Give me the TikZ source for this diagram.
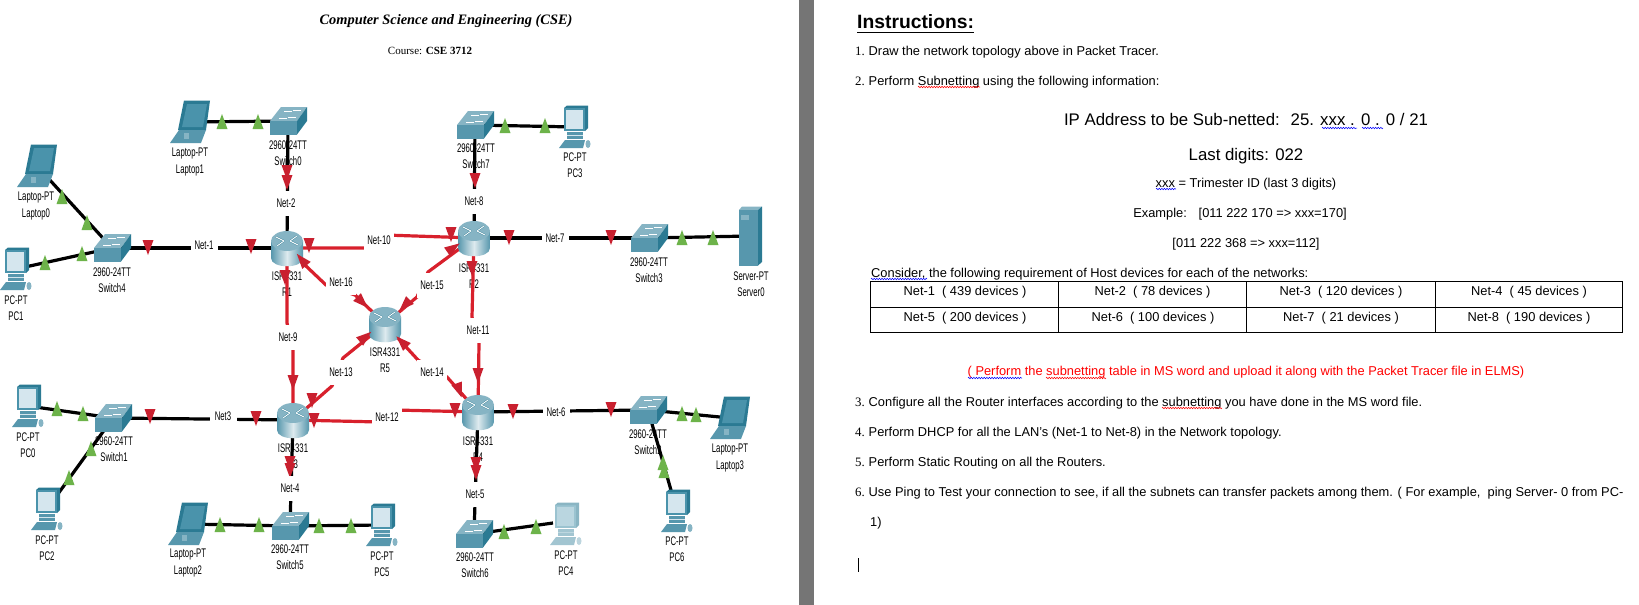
\documentclass[tikz,border=0pt]{standalone}
\usepackage{fontspec}
\setmainfont{Liberation Sans}
\newfontfamily\dvfont[FakeStretch=0.62]{Liberation Sans}
\newfontfamily\srf{Liberation Serif}
\usetikzlibrary{decorations.pathmorphing}
\definecolor{rtric}{HTML}{C9202F}
\definecolor{rline}{HTML}{D8202C}
\definecolor{gtric}{HTML}{6DB34A}
\definecolor{tealA}{HTML}{5797AD}
\definecolor{tealB}{HTML}{2B7A93}
\definecolor{tealC}{HTML}{86B4C4}
\definecolor{tealD}{HTML}{4A93AB}
\definecolor{screenc}{HTML}{D5E6EE}
\definecolor{bandc}{HTML}{757575}
\newcommand{\rtri}[3]{\fill[rtric,shift={(#1,#2)},rotate=#3] (-5.5,-7)--(5.5,-7)--(0,8)--cycle;}
\newcommand{\gtri}[2]{\fill[gtric,shift={(#1,#2)}] (-5.5,7)--(5.5,7)--(0,-8)--cycle;}
\newcommand{\squig}[4]{\draw[#4,line width=.5pt,decorate,decoration={zigzag,segment length=2.6pt,amplitude=.8pt}] (#1,#3)--(#2,#3);}
\tikzset{
 x=1pt,y=-1pt,
 dev/.style={inner sep=0pt,minimum size=0pt,outer sep=0pt},
 devlabel/.style={align=center,inner sep=0pt,font=\dvfont\fontsize{12.5}{16.5}\selectfont},
 netlabel/.style={fill=white,inner sep=0pt,minimum height=25pt,minimum width=#1,font=\dvfont\fontsize{12.5}{15}\selectfont},
 netlabel/.default=27pt,
 blk/.style={line width=3.2pt,black},
 redl/.style={line width=3.2pt,rline},
 doc/.style={anchor=mid west,inner sep=0pt,yshift=-2.5pt,font=\fontsize{12.85}{14}\selectfont},
 docc/.style={anchor=mid,inner sep=0pt,yshift=-3pt,font=\fontsize{12.85}{14}\selectfont},
 big/.style={anchor=mid,inner sep=0pt,yshift=-4pt,font=\fontsize{16.8}{18}\selectfont},
 cell/.style={anchor=mid,inner sep=0pt,yshift=-3pt,font=\fontsize{12.85}{14}\selectfont},
 switchicon/.pic={
  \fill[tealC] (-18,0)--(-7,-14)--(19,-14)--(9,0)--cycle;
  \fill[tealA] (-18,0) rectangle (9,13.5);
  \fill[tealB] (9,0)--(19,-14)--(19,0)--(9,13.5)--cycle;
  \draw[white,line width=.6pt] (-9,-3)--(-1,-3) (-4,-10)--(4,-10) (0,-4)--(8,-4) (5,-11)--(13,-11);
 },
 routericon/.pic={
  \shade[left color=tealA,right color=tealA,middle color=white!80!tealA] (-16,-7)--(-16,10) .. controls (-16,21) and (16,21) .. (16,10)--(16,-7)--cycle;
  \fill[tealC] (0,-7) ellipse [x radius=16pt,y radius=10pt];
  \draw[tealB,line width=1.6pt] (-11,-11)--(-3,-7) (11,-3)--(3,-7) (-10,-2)--(-3,-7) (10,-12)--(3,-7);
  \draw[white,line width=.9pt] (-11,-11)--(-3,-7) (11,-3)--(3,-7) (-10,-2)--(-3,-7) (10,-12)--(3,-7);
 },
 pcicon/.pic={
  \fill[tealB] (-11,-19)--(-8,-21.5)--(13,-21.5)--(13,1)--(10,4)--(10,-19)--cycle;
  \fill[tealD] (-11,-19) rectangle (10,4);
  \fill[screenc] (-9,-17) rectangle (8,2);
  \fill[tealA] (-8,5) rectangle (8,12);
  \fill[screenc] (-8,8) rectangle (8,9);
  \fill[tealA] (-16,21)--(-10,13)--(10,13)--(8,21)--cycle;
  \fill[tealC] (13,17) ellipse [x radius=2.5pt,y radius=4pt];
 },
 laptopicon/.pic={
  \fill[tealB] (-6,-21.5)--(20,-21.5)--(16,8)--(-12,8)--cycle;
  \fill[tealD] (-3,-18)--(17,-18)--(13,5)--(-8,5)--cycle;
  \fill[tealA] (-20,21)--(-11,8)--(16,8)--(11,21)--cycle;
  \fill[tealC] (-6,11) rectangle (-1,17);
 },
 servericon/.pic={
  \fill[tealC] (-11,-26)--(-8,-29.5)--(12,-29.5)--(8,-26)--cycle;
  \fill[tealA] (-11,-26) rectangle (8,29.5);
  \fill[tealB] (8,-26)--(12,-29.5)--(12,26)--(8,29.5)--cycle;
  \fill[tealC] (-9,-21) rectangle (-1,-16);
 },
}
\begin{document}
\begin{tikzpicture}
\useasboundingbox (0,0) rectangle (1639,605);
\fill[white] (0,0) rectangle (1639,605);
\fill[bandc] (799,0) rectangle (814,605);

% ---------- title
\node[inner sep=0pt,anchor=mid,font=\fontspec{Liberation Serif}\fontsize{14.4}{15}\selectfont\bfseries\itshape] (title) at (446,22) {Computer Science and Engineering (CSE)};
\node[inner sep=0pt,anchor=mid,font=\srf\fontsize{11}{13}\selectfont] (course) at (430,52) {Course: \textbf{CSE 3712}};

% ---------- device anchors
\foreach \n/\px/\py in {lap1/190/122,sw0/288/121,lap0/37/166,sw4/112/248,pc1/16/269,r1/287/248,
  sw7/475/125,pc3/575/127,r2/474/238,sw3/649/238,srv/750/236,r5/385/324,
  pc0/28/406,sw1/113/418,pc2/47/509,r3/293/420,lap2/188/524,sw5/290/526,pc5/382/525,
  r4/478/412,sw2/648/410,lap3/730/418,pc6/677/511,sw6/474/534,pc4/566/524}
  {\node[dev] (\n) at (\px,\py) {};}
\coordinate (pc4e) at (553,523);

% ---------- device labels (lines run over them)
\node[devlabel] (llap1) at (190,162) {Laptop-PT\\Laptop1};
\node[devlabel] (lsw0) at (288,153) {2960-24TT\\Switch0};
\node[devlabel] (llap0) at (36,206) {Laptop-PT\\Laptop0};
\node[devlabel] (lsw4) at (112,280) {2960-24TT\\Switch4};
\node[devlabel] (lpc1) at (16,308) {PC-PT\\PC1};
\node[devlabel] (lr1) at (287,284) {ISR4331\\R1};
\node[devlabel] (lsw7) at (476,156) {2960-24TT\\Switch7};
\node[devlabel] (lpc3) at (575,165) {PC-PT\\PC3};
\node[devlabel] (lr2) at (474,276) {ISR4331\\R2};
\node[devlabel] (lsw3) at (649,270) {2960-24TT\\Switch3};
\node[devlabel] (lsrv) at (751,284) {Server-PT\\Server0};
\node[devlabel] (lr5) at (385,360) {ISR4331\\R5};
\node[devlabel] (lpc0) at (28,445) {PC-PT\\PC0};
\node[devlabel] (lsw1) at (114,449) {2960-24TT\\Switch1};
\node[devlabel] (lpc2) at (47,548) {PC-PT\\PC2};
\node[devlabel] (lr3) at (293,456) {ISR4331\\R3};
\node[devlabel] (llap2) at (188,563) {Laptop-PT\\Laptop2};
\node[devlabel] (lsw5) at (290,557) {2960-24TT\\Switch5};
\node[devlabel] (lpc5) at (382,564) {PC-PT\\PC5};
\node[devlabel] (lr4) at (478,449) {ISR4331\\R4};
\node[devlabel] (lsw2) at (648,442) {2960-24TT\\Switch2};
\node[devlabel] (llap3) at (730,458) {Laptop-PT\\Laptop3};
\node[devlabel] (lpc6) at (677,549) {PC-PT\\PC6};
\node[devlabel] (lsw6) at (475,565) {2960-24TT\\Switch6};
\node[devlabel] (lpc4) at (566,563) {PC-PT\\PC4};

% ---------- kink points of the red links (hidden by their labels)
\coordinate (k10a) at (370,248); \coordinate (k10b) at (385,235);
\coordinate (k12a) at (380,422); \coordinate (k12b) at (395,410);
\coordinate (k16a) at (326,285); \coordinate (k16b) at (355,295);
\coordinate (k15a) at (417,297); \coordinate (k15b) at (428,272);
\coordinate (k13a) at (343,358); \coordinate (k13b) at (332,386);
\coordinate (k14a) at (418,360); \coordinate (k14b) at (447,377);
\coordinate (k9a) at (287,323); \coordinate (k9b) at (293,350);
\coordinate (k11a) at (472,317); \coordinate (k11b) at (479,343);

% ---------- black links
\draw[blk] (lap1)--(sw0);
\draw[blk] (lap0)--(sw4);
\draw[blk] (pc1)--(sw4);
\draw[blk] (sw4)--(r1);
\draw[blk] (sw0)--(r1);
\draw[blk] (sw7)--(pc3);
\draw[blk] (sw7)--(r2);
\draw[blk] (r2)--(sw3);
\draw[blk] (sw3)--(srv);
\draw[blk] (pc0)--(sw1);
\draw[blk] (pc2)--(sw1);
\draw[blk] (sw1)--(r3);
\draw[blk] (r3)--(sw5);
\draw[blk] (lap2)--(sw5);
\draw[blk] (sw5)--(pc5);
\draw[blk] (r4)--(sw2);
\draw[blk] (sw2)--(lap3);
\draw[blk] (sw2)--(pc6);
\draw[blk] (r4)--(sw6);
\draw[blk] (sw6)--(pc4e);

% ---------- red links
\draw[redl] (r1)--(k10a)--(k10b)--(r2);
\draw[redl] (r3)--(k12a)--(k12b)--(r4);
\draw[redl] (r1)--(k16a)--(k16b)--(r5);
\draw[redl] (r5)--(k15a)--(k15b)--(r2);
\draw[redl] (r5)--(k13a)--(k13b)--(r3);
\draw[redl] (r5)--(k14a)--(k14b)--(r4);
\draw[redl] (r1)--(k9a)--(k9b)--(r3);
\draw[redl] (r2)--(k11a)--(k11b)--(r4);

% ---------- icons
\foreach \n in {sw0,sw4,sw7,sw3,sw1,sw5,sw2,sw6} {\pic at (\n) {switchicon};}
\foreach \n in {r1,r2,r3,r4,r5} {\pic at (\n) {routericon};}
\foreach \n in {pc1,pc3,pc0,pc2,pc5,pc6} {\pic at (\n) {pcicon};}
\pic[opacity=.55] at (pc4) {pcicon};
\foreach \n in {lap1,lap0,lap2,lap3} {\pic at (\n) {laptopicon};}
\pic at (srv) {servericon};

% ---------- link lights
\gtri{222}{122}\gtri{258}{122}\gtri{62}{197}\gtri{87}{223}\gtri{45}{263}\gtri{82}{254}
\gtri{505}{126}\gtri{545}{126}\gtri{682}{238}\gtri{713}{238}
\gtri{57}{409}\gtri{83}{414}\gtri{69}{478}\gtri{91}{449}
\gtri{220}{525}\gtri{259}{525}\gtri{319}{526}\gtri{351}{526}
\gtri{682}{414}\gtri{696}{415}\gtri{663}{463}\gtri{664}{471}\gtri{504}{532}\gtri{536}{527}
\rtri{148}{247}{0}\rtri{251}{246}{0}\rtri{287}{172}{0}\rtri{287}{182}{0}
\rtri{309}{245}{0}\rtri{451}{234}{0}\rtri{285}{277}{0}\rtri{293}{382}{0}
\rtri{302}{260}{220}\rtri{362}{302}{45}\rtri{405}{305}{-45}\rtri{453}{248}{125}
\rtri{365}{337}{130}\rtri{402}{342}{225}\rtri{312}{400}{0}\rtri{459}{390}{20}
\rtri{314}{420}{0}\rtri{455}{410}{0}\rtri{472}{268}{0}\rtri{478}{375}{0}
\rtri{475}{180}{0}\rtri{509}{237}{0}\rtri{611}{237}{0}\rtri{513}{411}{0}\rtri{611}{409}{0}
\rtri{150}{416}{0}\rtri{256}{418}{0}\rtri{290}{463}{0}\rtri{290}{470}{0}
\rtri{476}{464}{0}\rtri{476}{472}{0}

% ---------- net labels
\node[netlabel] (n1) at (204,245) {Net-1};
\node[netlabel] (n2) at (286,203) {Net-2};
\node[netlabel] (n3) at (223,416) {Net3};
\node[netlabel] (n4) at (290,488) {Net-4};
\node[netlabel] (n5) at (475,494) {Net-5};
\node[netlabel] (n6) at (556,412) {Net-6};
\node[netlabel] (n7) at (555,238) {Net-7};
\node[netlabel] (n8) at (474,201) {Net-8};
\node[netlabel] (n9) at (288,337) {Net-9};
\node[netlabel=30pt] (n10) at (379,240) {Net-10};
\node[netlabel=30pt] (n11) at (478,330) {Net-11};
\node[netlabel=30pt] (n12) at (387,417) {Net-12};
\node[netlabel=30pt] (n13) at (341,372) {Net-13};
\node[netlabel=30pt] (n14) at (432,372) {Net-14};
\node[netlabel=30pt] (n15) at (432,285) {Net-15};
\node[netlabel=30pt] (n16) at (341,282) {Net-16};

% ---------- instructions page
\node[anchor=mid west,inner sep=0pt,font=\fontsize{19.3}{22}\selectfont\bfseries] (inst) at (857,26) {Instructions:};
\draw[line width=1.5pt] (857,32.5)--(973.5,32.5);
\node[doc] (t1) at (855,50) {\makebox[13.5pt][l]{\srf 1.}Draw the network topology above in Packet Tracer.};
\node[doc] (t2) at (855,80) {\makebox[13.5pt][l]{\srf 2.}Perform Subnetting using the following information:};
\squig{918}{980}{87}{red}
\node[big] (ip) at (1246,119) {IP Address to be Sub-netted:~ 25. xxx . 0 . 0 / 21};
\squig{1322}{1357}{128}{blue}\squig{1362}{1383}{128}{blue}
\node[big] (ld) at (1246,154) {Last digits: 022};
\node[docc] (tri) at (1246,182) {xxx = Trimester ID (last 3 digits)};
\squig{1156}{1176}{189}{blue}
\node[docc] (ex1) at (1240,212) {Example:~~ [011 222 170 => xxx=170]};
\node[docc] (ex2) at (1246,242) {[011 222 368 => xxx=112]};
\node[doc] (cons) at (871,272) {Consider, the following requirement of Host devices for each of the networks:};
\squig{871}{927}{279}{blue}
\draw[line width=.7pt] (870.6,281) rectangle (1622,332);
\draw[line width=.7pt] (870.6,307)--(1622,307) (1058.7,281)--(1058.7,332) (1246.7,281)--(1246.7,332) (1435,281)--(1435,332);
\node[cell] (c1) at (965,290) {Net-1~ ( 439 devices )};
\node[cell] (c2) at (1152.5,290) {Net-2~ ( 78 devices )};
\node[cell] (c3) at (1341,290) {Net-3~ ( 120 devices )};
\node[cell] (c4) at (1529,290) {Net-4~ ( 45 devices )};
\node[cell] (c5) at (965,316) {Net-5~ ( 200 devices )};
\node[cell] (c6) at (1153,316) {Net-6~ ( 100 devices )};
\node[cell] (c7) at (1341,316) {Net-7~ ( 21 devices )};
\node[cell] (c8) at (1529,316) {Net-8~ ( 190 devices )};
\node[docc,text=red] (note) at (1246,370) {( Perform the subnetting table in MS word and upload it along with the Packet Tracer file in ELMS)};
\squig{968}{1022}{378}{blue}\squig{1046}{1106}{378}{red}
\node[doc] (t3) at (855,401) {\makebox[13.5pt][l]{\srf 3.}Configure all the Router interfaces according to the subnetting you have done in the MS word file.};
\squig{1162}{1222}{408}{red}
\node[doc] (t4) at (855,431) {\makebox[13.5pt][l]{\srf 4.}Perform DHCP for all the LAN’s (Net-1 to Net-8) in the Network topology.};
\node[doc] (t5) at (855,461) {\makebox[13.5pt][l]{\srf 5.}Perform Static Routing on all the Routers.};
\node[doc] (t6) at (855,491) {\makebox[13.5pt][l]{\srf 6.}Use Ping to Test your connection to see, if all the subnets can transfer packets among them. ( For example,~ ping Server- 0 from PC-};
\node[doc] (t6b) at (870,521) {1)};
\draw[line width=.6pt] (858,558)--(858,572);
\end{tikzpicture}
\end{document}
